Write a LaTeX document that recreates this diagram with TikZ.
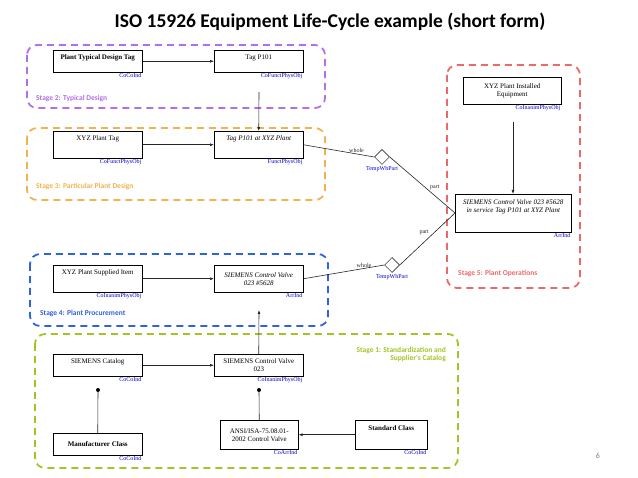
\documentclass[tikz,border=0pt]{standalone}
\usepackage{fontspec}
\setmainfont{Liberation Serif}
\newfontfamily\titlefont{Carlito}
\usetikzlibrary{arrows.meta,shapes.geometric}
\definecolor{stagepurple}{HTML}{B070E8}
\definecolor{stageorange}{HTML}{F2B24C}
\definecolor{stagered}{HTML}{EA6A6A}
\definecolor{stageblue}{HTML}{2F62DC}
\definecolor{stagegreen}{HTML}{A2C424}
\tikzset{
	box/.style={draw, line width=.5pt, align=center, inner sep=1pt, font=\fontsize{7}{8}\selectfont},
	typ/.style={text=blue!80!black, font=\fontsize{6}{6.5}\selectfont, anchor=north east, inner sep=1pt},
	stage/.style={line width=1.8pt, rounded corners=10pt, dash pattern=on 7pt off 5pt},
	stagetext/.style={font=\titlefont\bfseries\fontsize{7.5}{8.5}\selectfont, inner sep=0pt},
	rel/.style={line width=.6pt, black!85},
	arr/.style={rel, -{Latex[length=4pt,width=3pt]}},
	role/.style={font=\fontsize{6}{6.5}\selectfont, inner sep=1pt},
	wp/.style={draw, diamond, minimum size=15pt, inner sep=0pt, line width=.5pt},
	dot/.style={circle, fill, inner sep=0pt, minimum size=4pt}
}
\begin{document}
\begin{tikzpicture}[x=1pt, y=-1pt]
	\useasboundingbox (0,0) rectangle (638,478);
	\node[font=\titlefont\bfseries\fontsize{19.5}{22}\selectfont] (title) at (330,22) {ISO 15926 Equipment Life-Cycle example (short form)};
	\node[font=\titlefont\fontsize{8}{9}\selectfont, text=gray] (page) at (598,456) {6};
	% stages
	\draw[stage, stagepurple] (27,45) rectangle (325,108);
	\node[stagetext, text=stagepurple, anchor=west] (s2) at (36,99) {Stage 2: Typical Design};
	\draw[stage, stageorange] (27,128) rectangle (325,200);
	\node[stagetext, text=stageorange, anchor=west] (s3) at (36,187) {Stage 3: Particular Plant Design};
	\draw[stage, stagered] (447,65) rectangle (580,288);
	\node[stagetext, text=stagered, anchor=west] (s5) at (458,274) {Stage 5: Plant Operations};
	\draw[stage, stageblue] (30,254) rectangle (328,326);
	\node[stagetext, text=stageblue, anchor=west] (s4) at (40,314) {Stage 4: Plant Procurement};
	\draw[stage, stagegreen] (35,334) rectangle (458,468);
	\node[stagetext, text=stagegreen, align=right, anchor=north east] (s1) at (446,347) {Stage 1: Standardization and\\Supplier's Catalog};
	% boxes
	\node[box, minimum width=89pt, minimum height=22pt, anchor=north west, font=\bfseries\fontsize{7}{8}\selectfont, text depth=9pt] (ptdt) at (53,50) {Plant Typical Design Tag};
	\node[typ] at (ptdt.south east) {CoCoInd};
	\node[box, minimum width=89pt, minimum height=22pt, anchor=north west, text depth=9pt] (tag) at (214,50) {Tag P101};
	\node[typ] at (tag.south east) {CoFunctPhysObj};
	\node[box, minimum width=89pt, minimum height=27pt, anchor=north west, text depth=14pt] (xyztag) at (53,131) {XYZ Plant Tag};
	\node[typ] at (xyztag.south east) {CoFunctPhysObj};
	\node[box, minimum width=89pt, minimum height=27pt, anchor=north west, font=\itshape\fontsize{7}{8}\selectfont, text depth=14pt] (tagxyz) at (214,131) {Tag P101 at XYZ Plant};
	\node[typ] at (tagxyz.south east) {FunctPhysObj};
	\node[box, minimum width=98pt, minimum height=27pt, anchor=north west] (inst) at (463,77) {XYZ Plant Installed\\Equipment};
	\node[typ] at (inst.south east) {CoInanimPhysObj};
	\node[box, minimum width=116pt, minimum height=38pt, anchor=north west, font=\itshape\fontsize{7}{8}\selectfont, text depth=14pt] (insvc) at (455,194) {SIEMENS Control Valve 023 \#5628\\in service Tag P101 at XYZ Plant};
	\node[typ] at (insvc.south east) {ArrInd};
	\node[box, minimum width=89pt, minimum height=27pt, anchor=north west, text depth=14pt] (supp) at (53,265) {XYZ Plant Supplied Item};
	\node[typ] at (supp.south east) {CoInanimPhysObj};
	\node[box, minimum width=89pt, minimum height=27pt, anchor=north west, font=\itshape\fontsize{7}{8}\selectfont] (cv5628) at (214,265) {SIEMENS Control Valve\\023 \#5628};
	\node[typ] at (cv5628.south east) {ArrInd};
	\node[box, minimum width=89pt, minimum height=22pt, anchor=north west, text depth=9pt] (cat) at (53,354) {SIEMENS Catalog};
	\node[typ] at (cat.south east) {CoCoInd};
	\node[box, minimum width=89pt, minimum height=22pt, anchor=north west] (cv023) at (214,354) {SIEMENS Control Valve\\023};
	\node[typ] at (cv023.south east) {CoInanimPhysObj};
	\node[box, minimum width=89pt, minimum height=22pt, anchor=north west, font=\bfseries\fontsize{7}{8}\selectfont] (manu) at (53,433) {Manufacturer Class};
	\node[typ] at (manu.south east) {CoCoInd};
	\node[box, minimum width=78pt, minimum height=29pt, anchor=north west] (ansi) at (220,420) {ANSI/ISA-75.08.01-\\2002 Control Valve};
	\node[typ] at (ansi.south east) {CoArrInd};
	\node[box, minimum width=72pt, minimum height=29pt, anchor=north west, font=\bfseries\fontsize{7}{8}\selectfont, text depth=14pt] (std) at (355,420) {Standard Class};
	\node[typ] at (std.south east) {CoCoInd};
	% whole-part relations
	\node[wp] (wp1) at (382,157) {};
	\node[typ, anchor=north] at (wp1.south) {TempWhPart};
	\node[wp] (wp2) at (392,265) {};
	\node[typ, anchor=north] at (wp2.south) {TempWhPart};
	\coordinate (join) at (455,213);
	\coordinate (tagend) at (259,92);
	\coordinate (instend) at (513,122);
	\coordinate (cvtop) at (259,310);
	\node[dot] (manudot) at (98,390) {};
	\node[dot] (ansidot) at (259,390) {};
	% connectors
	\draw[arr] (ptdt) -- (tag);
	\draw[arr] (tagend) -- (tagxyz.north);
	\draw[arr] (xyztag) -- (tagxyz);
	\draw[arr] (supp) -- (cv5628);
	\draw[arr] (cat) -- (cv023);
	\draw[arr] (std) -- (ansi);
	\draw[arr] (instend) -- (insvc.north -| instend);
	\draw[arr] (cv023.north) -- (cvtop);
	\draw[rel] (tagxyz.east) -- node[role, above, pos=.75] {whole} (wp1.west);
	\draw[rel] (wp1.east) -- node[role, above right, pos=.6] {part} (join);
	\draw[rel] (cv5628.east) -- node[role, above, pos=.75] {whole} (wp2.west);
	\draw[rel] (wp2.east) -- node[role, above left, pos=.55] {part} (join);
	\draw[rel] (manudot) -- (manu.north);
	\draw[rel] (ansidot) -- (ansi.north);
\end{tikzpicture}
\end{document}
